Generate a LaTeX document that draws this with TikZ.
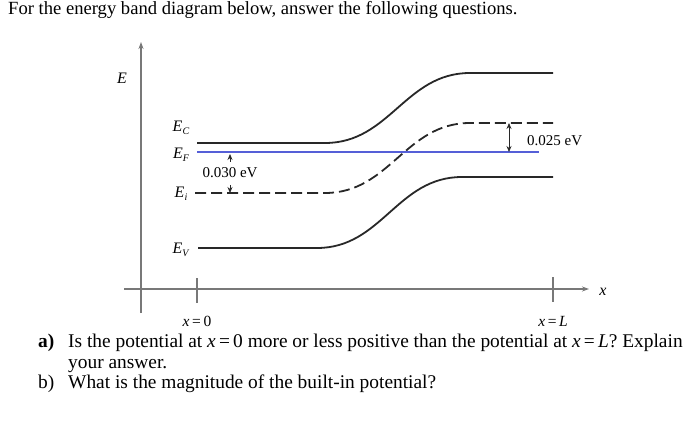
\documentclass[tikz,border=0pt]{standalone}
\usepackage{fontspec}
\setmainfont{Liberation Serif}
\usetikzlibrary{arrows.meta}
\definecolor{axisgray}{RGB}{120,120,120}
\definecolor{bandgray}{RGB}{40,40,40}
\definecolor{fermiblue}{RGB}{85,95,215}
\begin{document}
\begin{tikzpicture}[x=1pt,y=-1pt,
  axisline/.style={draw=axisgray,line width=1.1pt},
  bandline/.style={draw=bandgray,line width=1.8pt},
  bandlinedash/.style={draw=bandgray,line width=1.8pt,dash pattern=on 11pt off 5pt},
  fermi/.style={draw=fermiblue,line width=2pt},
  lbl/.style={font=\fontsize{15}{17}\selectfont,inner sep=0pt},
  biglbl/.style={font=\fontsize{16}{18}\selectfont,inner sep=0pt},
  qtext/.style={font=\fontsize{19.4}{22}\selectfont,inner sep=0pt,anchor=base west},
  dimarrow/.style={draw=bandgray,line width=0.8pt},
  tip/.style={-{Stealth[length=6pt,width=5pt]}}
]
\useasboundingbox (0,0) rectangle (700,435);
% title
\node[qtext,font=\fontsize{18.6}{21}\selectfont] (title) at (8,15) {For the energy band diagram below, answer the following questions.};
% axes
\coordinate (ybot) at (141,313);
\coordinate (ytop) at (141,42);
\coordinate (xleft) at (124,289);
\coordinate (xright) at (589,289);
\draw[axisline,-{Stealth[length=7pt,width=5pt]}] (ybot) -- (ytop);
\draw[axisline,-{Stealth[length=7pt,width=5pt]}] (xleft) -- (xright);
\coordinate (t0a) at (197,278); \coordinate (t0b) at (197,303);
\coordinate (tLa) at (553,277); \coordinate (tLb) at (553,302);
\draw[axisline] (t0a) -- (t0b);
\draw[axisline] (tLa) -- (tLb);
\node[biglbl,font=\fontsize{16}{18}\selectfont\itshape] (Elab) at (122,78) {E};
\node[biglbl,font=\fontsize{16}{18}\selectfont\itshape] (xlab) at (603,292) {x};
\node[lbl,font=\fontsize{15.5}{17}\selectfont] (x0) at (197,321) {\textit{x}\,=\,0};
\node[lbl,font=\fontsize{15.5}{17}\selectfont] (xL) at (553,321) {\textit{x}\,=\,\textit{L}};
% band labels
\node[biglbl] (EC) at (181,128) {\textit{E}\raisebox{-0.4ex}{\fontsize{10}{11}\selectfont\textit{C}}};
\node[biglbl] (EF) at (181,155) {\textit{E}\raisebox{-0.4ex}{\fontsize{10}{11}\selectfont\textit{F}}};
\node[biglbl] (Ei) at (181,194) {\textit{E}\raisebox{-0.4ex}{\fontsize{10}{11}\selectfont\textit{i}}};
\node[biglbl] (EV) at (181,250) {\textit{E}\raisebox{-0.4ex}{\fontsize{10}{11}\selectfont\textit{V}}};
% bands
\draw[bandline] (197,143) -- (325,143) .. controls (390,143) and (405,73) .. (470,73) -- (553,73);
\draw[bandlinedash] (195,193) -- (325,193) .. controls (390,193) and (405,123) .. (470,123) -- (553,123);
\draw[bandline] (198,248) -- (317,248) .. controls (382,248) and (397,177) .. (462,177) -- (553,177);
\draw[fermi] (197,152.5) -- (539,152.5);
% 0.030 eV
\coordinate (a1s) at (230,162); \coordinate (a1e) at (230,154);
\coordinate (a2s) at (230,185); \coordinate (a2e) at (230,193);
\draw[dimarrow,tip] (a1s) -- (a1e);
\draw[dimarrow,tip] (a2s) -- (a2e);
\node[lbl] (d1) at (230,173) {0.030 eV};
% 0.025 eV
\coordinate (b1) at (509,123); \coordinate (b2) at (509,152);
\draw[dimarrow,{Stealth[length=6pt,width=5pt]}-{Stealth[length=6pt,width=5pt]}] (b1) -- (b2);
\node[lbl,anchor=west] (d2) at (527,141) {0.025 eV};
% questions
\node[qtext] (qa) at (38,347) {\textbf{a)}};
\node[qtext] (qatext) at (68,347) {Is the potential at \textit{x}\,=\,0 more or less positive than the potential at \textit{x}\,=\,\textit{L}? Explain};
\node[qtext] (qa2) at (68,368) {your answer.};
\node[qtext] (qb) at (38,388) {b)};
\node[qtext] (qbtext) at (68,388) {What is the magnitude of the built-in potential?};
\end{tikzpicture}
\end{document}
